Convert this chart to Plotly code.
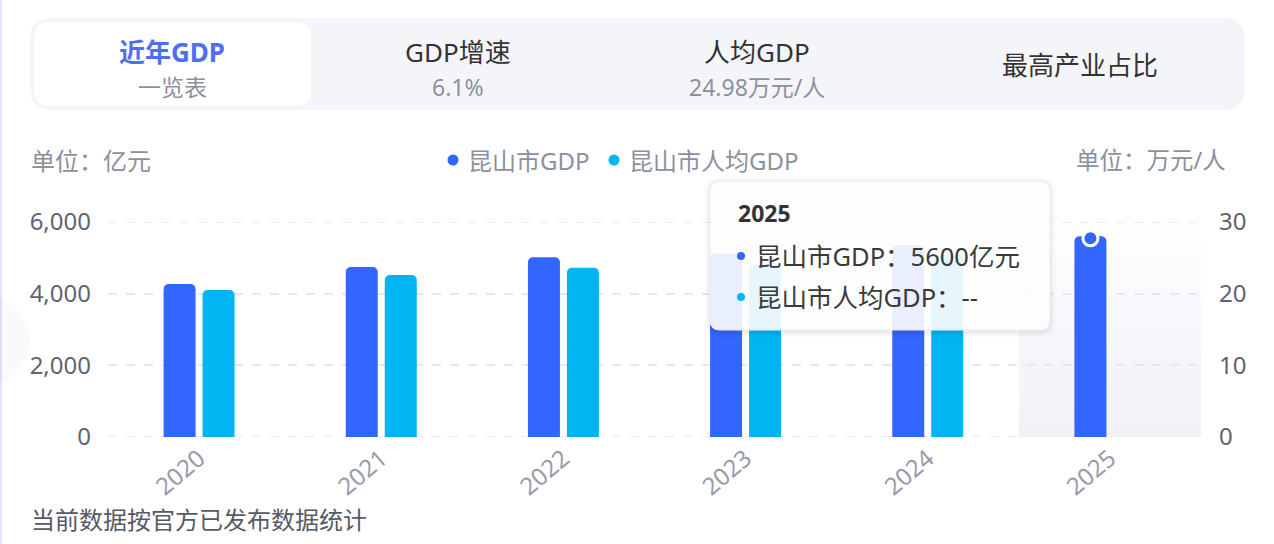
import plotly.graph_objects as go

# ---------------- data ----------------
years = ["2020", "2021", "2022", "2023", "2024", "2025"]
gdp = [4270, 4745, 5015, 5130, 5360, 5600]            # 亿元
gdp_per_capita = [20.5, 22.6, 23.6, 24.0, 25.5, None]  # 万元/人
left_ticks = [0, 2000, 4000, 6000]
right_ticks = [0, 10, 20, 30]

tab_titles = ["近年GDP", "GDP增速", "人均GDP", "最高产业占比"]
tab_subs = ["一览表", "6.1%", "24.98万元/人", ""]
series_names = ["昆山市GDP", "昆山市人均GDP"]
tooltip_year = "2025"
tooltip_lines = ["昆山市GDP：5600亿元", "昆山市人均GDP：--"]

# ---------------- style ----------------
W, H = 1274, 544
L, R, T, B = 108, 1201, 222, 437
BLUE = "#3366ff"
CYAN = "#00b5f1"
GRAY = "#8c909e"
DARK = "#333333"
FONT = "Noto Sans, Noto Sans CJK SC"

def fx(p):
    return (p - L) / (R - L)

def fy(p):
    return (B - p) / (B - T)

def rrect(x0, y0, x1, y1, r):
    pts = [
        ("M", (x0 + r, y0)), ("L", (x1 - r, y0)), ("Q", (x1, y0), (x1, y0 + r)),
        ("L", (x1, y1 - r)), ("Q", (x1, y1), (x1 - r, y1)),
        ("L", (x0 + r, y1)), ("Q", (x0, y1), (x0, y1 - r)),
        ("L", (x0, y0 + r)), ("Q", (x0, y0), (x0 + r, y0)),
    ]
    s = ""
    for p in pts:
        coords = " ".join(f"{fx(a):.5f},{fy(b):.5f}" for a, b in p[1:])
        s += f"{p[0]} {coords} "
    return s + "Z"

n = len(years)
slot = (R - L) / n
bar_px = 32
gap_px = 7
bw = bar_px / slot
off_gdp = -(bar_px + gap_px / 2) / slot
off_pc = (gap_px / 2) / slot

fig = go.Figure()

fig.add_trace(go.Bar(
    x=years, y=gdp, name=series_names[0], yaxis="y",
    width=bw, offset=off_gdp,
    marker=dict(color=BLUE, cornerradius=5, line=dict(width=0)),
    hoverinfo="skip",
))
fig.add_trace(go.Bar(
    x=years, y=gdp_per_capita, name=series_names[1], yaxis="y2",
    width=bw, offset=off_pc,
    marker=dict(color=CYAN, cornerradius=5, line=dict(width=0)),
    hoverinfo="skip",
))

shapes = []
# left edge line
shapes.append(dict(type="line", xref="paper", yref="paper", x0=fx(1), x1=fx(1),
                   y0=fy(0), y1=fy(H), line=dict(color="#dfe4fb", width=2), layer="below"))
# faint circle at left
shapes.append(dict(type="circle", xref="paper", yref="paper", x0=fx(-60), x1=fx(30),
                   y0=fy(295), y1=fy(385), fillcolor="rgba(0,0,0,0.018)",
                   line=dict(width=0), layer="below"))
# tab container
shapes.append(dict(type="path", xref="paper", yref="paper", path=rrect(30, 18, 1245, 110, 22),
                   fillcolor="#f4f5f9", line=dict(width=0), layer="below"))
shapes.append(dict(type="path", xref="paper", yref="paper", path=rrect(34, 22, 311, 106, 16),
                   fillcolor="#ffffff", line=dict(width=0), layer="below"))

# axis-pointer shadow for 2025 (gradient made of bands)
sel = years.index(tooltip_year)
nb = 14
for i in range(nb):
    y0 = left_ticks[-1] * i / nb
    y1 = left_ticks[-1] * (i + 1) / nb
    a = 0.75 * (1 - (i + 0.5) / nb) + 0.05
    shapes.append(dict(type="rect", xref="x", yref="y", x0=sel - 0.5, x1=sel + 0.5,
                       y0=y0, y1=y1, fillcolor=f"rgba(236,238,245,{a:.3f})",
                       line=dict(width=0), layer="below"))

# edge grid lines (0 and max) that plotly omits at range ends
for v in (left_ticks[0], left_ticks[-1]):
    shapes.append(dict(type="line", xref="paper", yref="y", x0=0, x1=1, y0=v, y1=v,
                       line=dict(color="#e8e8ec", width=1.5, dash="dash"), layer="below"))

# highlighted point on the 2025 bar
cx = sel + off_gdp + bw / 2
shapes.append(dict(type="circle", xref="x", yref="y", xsizemode="pixel", ysizemode="pixel",
                   xanchor=cx, yanchor=gdp[sel], x0=-7.5, x1=7.5, y0=-9.5, y1=5.5,
                   fillcolor=BLUE, line=dict(color="white", width=3)))

# tooltip
tx0, ty0, tx1, ty1 = 710, 181, 1050, 330
for k, a in [(6, 0.012), (4, 0.02), (2, 0.035)]:
    shapes.append(dict(type="path", xref="paper", yref="paper",
                       path=rrect(tx0 - k, ty0 - k + 2, tx1 + k, ty1 + k + 2, 10 + k),
                       fillcolor=f"rgba(0,0,0,{a})", line=dict(width=0)))
shapes.append(dict(type="path", xref="paper", yref="paper", path=rrect(tx0, ty0, tx1, ty1, 10),
                   fillcolor="rgba(255,255,255,0.9)", line=dict(color="#ececf0", width=1)))
for cy, col in [(256, BLUE), (297, CYAN)]:
    shapes.append(dict(type="circle", xref="paper", yref="paper",
                       x0=fx(737), x1=fx(745), y0=fy(cy - 4), y1=fy(cy + 4),
                       fillcolor=col, line=dict(width=0)))

# legend dots
for cxp, col in [(453, BLUE), (614, CYAN)]:
    shapes.append(dict(type="circle", xref="paper", yref="paper",
                       x0=fx(cxp - 5.5), x1=fx(cxp + 5.5), y0=fy(160 - 5.5), y1=fy(160 + 5.5),
                       fillcolor=col, line=dict(width=0)))

ann = []
def text(s, x, y, size, color, xanchor="center", bold=False):
    ann.append(dict(text=f"<b>{s}</b>" if bold else s, xref="paper", yref="paper",
                    x=fx(x), y=fy(y), xanchor=xanchor, yanchor="middle", showarrow=False,
                    font=dict(family=FONT, size=size, color=color)))

tab_cx = [172, 458, 757, 1080]
for i, (t, s) in enumerate(zip(tab_titles, tab_subs)):
    if s:
        text(t, tab_cx[i], 52, 26, "#4f6ef5" if i == 0 else DARK, bold=(i == 0))
        text(s, tab_cx[i], 87, 23, GRAY)
    else:
        text(t, tab_cx[i], 65, 26, DARK)

text("单位：亿元", 29, 160, 24, GRAY, xanchor="left")
text("单位：万元/人", 1228, 160, 23.5, GRAY, xanchor="right")
text(series_names[0], 466, 160, 24, GRAY, xanchor="left")
text(series_names[1], 627, 160, 24, GRAY, xanchor="left")
text("当前数据按官方已发布数据统计", 29, 519, 24, "#555a66", xanchor="left")

text(tooltip_year, 736, 213, 23, DARK, xanchor="left", bold=True)
text(tooltip_lines[0], 754, 256, 25.5, "#3a3a3a", xanchor="left")
text(tooltip_lines[1], 754, 297, 25.5, "#3a3a3a", xanchor="left")

fig.update_layout(
    width=W, height=H,
    margin=dict(l=L, r=W - R, t=T, b=H - B, pad=0),
    paper_bgcolor="white", plot_bgcolor="rgba(0,0,0,0)",
    showlegend=False, hovermode=False, barmode="overlay",
    shapes=shapes, annotations=ann,
    font=dict(family=FONT),
    xaxis=dict(type="category", range=[-0.5, n - 0.5], showgrid=False, zeroline=False,
               showline=False, ticks="", tickangle=-40,
               tickfont=dict(family=FONT, size=24, color="#979bab"), ticklabelstandoff=2),
    yaxis=dict(range=[0, left_ticks[-1]], tickvals=left_ticks,
               ticktext=[f"{v:,}" for v in left_ticks],
               showgrid=True, gridcolor="#e8e8ec", griddash="dash", gridwidth=1.5,
               zeroline=False, showline=False, ticks="", ticklabelstandoff=16,
               tickfont=dict(family=FONT, size=24, color="#5f6370")),
    yaxis2=dict(range=[0, right_ticks[-1]], tickvals=right_ticks, overlaying="y", side="right",
                showgrid=False, zeroline=False, showline=False, ticks="", ticklabelstandoff=17,
                tickfont=dict(family=FONT, size=24, color="#5f6370")),
)

fig.write_html("out.html")
